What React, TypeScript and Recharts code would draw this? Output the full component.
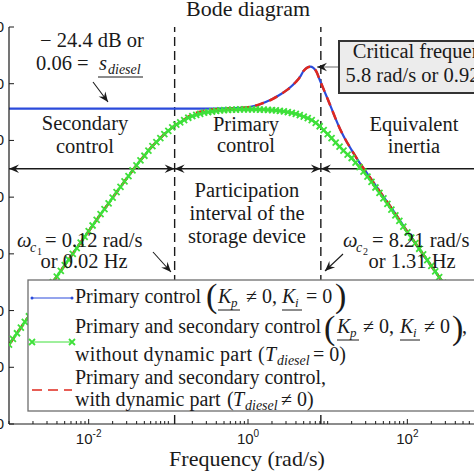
import React from "react";
import { LineChart, Line, XAxis, YAxis, ReferenceLine } from "recharts";

const SERIF = "'Liberation Serif', 'Times New Roman', serif";
const SANS = "'Liberation Sans', Arial, sans-serif";
const INK = "#1a1a1a";
const BLUE = "#2b4bdb";
const GREEN = "#3ee03a";
const RED = "#e0281e";

// frequency grid of the green curve (rad/s), twenty points per decade
const freqs = [
  0.001, 0.00112, 0.00126, 0.00141, 0.00158, 0.00178, 0.002, 0.00224, 0.00251, 0.00282,
  0.00316, 0.00355, 0.00398, 0.00447, 0.00501, 0.00562, 0.00631, 0.00708, 0.00794, 0.00891,
  0.01, 0.0112, 0.0126, 0.0141, 0.0158, 0.0178, 0.02, 0.0224, 0.0251, 0.0282,
  0.0316, 0.0355, 0.0398, 0.0447, 0.0501, 0.0562, 0.0631, 0.0708, 0.0794, 0.0891,
  0.1, 0.112, 0.126, 0.141, 0.158, 0.178, 0.2, 0.224, 0.251, 0.282,
  0.316, 0.355, 0.398, 0.447, 0.501, 0.562, 0.631, 0.708, 0.794, 0.891,
  1, 1.12, 1.26, 1.41, 1.58, 1.78, 2, 2.24, 2.51, 2.82,
  3.16, 3.55, 3.98, 4.47, 5.01, 5.62, 6.31, 7.08, 7.94, 8.91,
  10, 11.2, 12.6, 14.1, 15.8, 17.8, 20, 22.4, 25.1, 28.2,
  31.6, 35.5, 39.8, 44.7, 50.1, 56.2, 63.1, 70.8, 79.4, 89.1,
  100, 112, 126, 141, 158, 178, 200, 224, 251, 282,
  316, 355, 398, 447, 501, 562, 631, 708, 794, 891, 1000,
];
// primary + secondary control, no diesel dynamics (dB)
const greenDb = [
  -66.0, -65.0, -64.0, -63.0, -62.0, -61.0, -60.0, -59.0, -58.0, -57.0,
  -56.0, -55.0, -54.0, -53.0, -52.0, -51.0, -50.0, -49.0, -48.0, -47.0,
  -46.0, -45.0, -44.0, -43.0, -42.1, -41.1, -40.1, -39.1, -38.2, -37.2,
  -36.3, -35.3, -34.4, -33.5, -32.7, -31.8, -31.0, -30.3, -29.6, -28.9,
  -28.3, -27.7, -27.2, -26.8, -26.4, -26.0, -25.7, -25.5, -25.3, -25.1,
  -25.0, -24.9, -24.8, -24.7, -24.65, -24.61, -24.57, -24.55, -24.53, -24.53,
  -24.52, -24.53, -24.54, -24.56, -24.58, -24.62, -24.67, -24.72, -24.8, -24.89,
  -25.0, -25.15, -25.3, -25.53, -25.8, -26.07, -26.4, -26.9, -27.5, -28.2,
  -28.9, -29.6, -30.4, -31.1, -31.8, -32.5, -33.1, -33.9, -34.7, -35.5,
  -36.4, -37.3, -38.3, -39.25, -40.2, -41.2, -42.2, -43.2, -44.2, -45.2,
  -46.2, -47.15, -48.1, -49.1, -50.1, -51.1, -52.1, -53.1, -54.1, -55.1,
  -56.1, -57.1, -58.1, -59.1, -60.1, -61.1, -62.1, -63.1, -64.1, -65.1, -66.1,
];

// primary control only
const blueFreqs = [
  0.001, 0.01, 0.1, 0.316, 0.631, 1, 1.26, 1.58, 2, 2.51, 3.16, 3.98, 4.47, 5.01,
  5.62, 6.03, 6.61, 7.24, 7.94, 8.91, 10, 11.2, 12.6, 14.1, 15.8, 20, 25.1, 31.6,
  39.8, 50.1, 63.1, 100, 316, 1000,
];
const blueDb = [
  -24.4, -24.4, -24.4, -24.38, -24.3, -24.15, -23.85, -23.35, -22.75, -21.95, -21.0, -19.7, -18.85, -17.7,
  -17.1, -17.0, -17.2, -17.9, -19.3, -21.0, -22.7, -24.4, -26.2, -27.8, -29.2, -31.7, -33.9, -35.9,
  -37.9, -39.9, -41.9, -46.1, -56.1, -66.1,
];

// primary + secondary control with diesel dynamics
const redFreqs = [
  0.001, 0.00316, 0.01, 0.0158, 0.0251, 0.0398, 0.0631, 0.1, 0.126, 0.158, 0.2, 0.251,
  0.316, 0.398, 0.501, 0.631, 0.794, 1, 1.26, 1.58, 2, 2.51, 3.16, 3.98, 4.47, 5.01,
  5.62, 6.03, 6.61, 7.24, 7.94, 8.91, 10, 11.2, 12.6, 14.1, 15.8, 20, 25.1, 31.6,
  39.8, 50.1, 63.1, 100, 316, 1000,
];
const redDb = [
  -66.0, -56.0, -46.0, -42.1, -38.2, -34.4, -31.0, -28.3, -27.2, -26.3, -25.4, -24.95,
  -24.65, -24.5, -24.4, -24.35, -24.25, -24.15, -23.85, -23.35, -22.75, -21.95, -21.0, -19.7, -18.85, -17.7,
  -17.1, -17.0, -17.2, -17.9, -19.3, -21.0, -22.7, -24.4, -26.2, -27.8, -29.2, -31.7, -33.9, -35.9,
  -37.9, -39.9, -41.9, -46.1, -56.1, -66.1,
];

const yTicks = [-80, -70, -60, -50, -40, -30, -20, -10];
const decades = [0.001, 0.01, 0.1, 1, 10, 100];
const xTicks = decades
  .flatMap((d) => [1, 2, 3, 4, 5, 6, 7, 8, 9].map((m) => +(d * m).toPrecision(3)))
  .concat(1000);
const labelledExps = [-2, 0, 2];

const crossovers = [0.12, 8.21]; // rad/s
const bandLevel = -35; // dB, height of the double arrows
const bandEdges = [0.001, 0.12, 8.21, 1000];

const greenData = freqs.map((f, i) => ({ f, db: greenDb[i] }));
const blueData = blueFreqs.map((f, i) => ({ f, db: blueDb[i] }));
const redData = redFreqs.map((f, i) => ({ f, db: redDb[i] }));

function arrowHead(fx: number, fy: number, tx: number, ty: number, size = 10) {
  const len = Math.hypot(tx - fx, ty - fy) || 1;
  const dx = (tx - fx) / len;
  const dy = (ty - fy) / len;
  const w = size * 0.42;
  const bx = tx - dx * size;
  const by = ty - dy * size;
  const nx = tx - dx * size * 0.65;
  const ny = ty - dy * size * 0.65;
  return (
    <path
      d={`M${tx},${ty}L${bx - dy * w},${by + dx * w}L${nx},${ny}L${bx + dy * w},${by - dx * w}Z`}
      fill={INK}
    />
  );
}

function Arrow({ x1, y1, x2, y2, stroke = INK }: any) {
  return (
    <g>
      <line x1={x1} y1={y1} x2={x2} y2={y2} stroke={stroke} strokeWidth={1.1} />
      {arrowHead(x1, y1, x2, y2)}
    </g>
  );
}

const DoubleArrow = (props: any) => {
  const { x1, y1, x2, y2 } = props;
  return (
    <g>
      <line x1={x1} y1={y1} x2={x2} y2={y2} stroke={INK} strokeWidth={1.4} />
      {arrowHead(x2, y2, x1, y1)}
      {arrowHead(x1, y1, x2, y2)}
    </g>
  );
};

function isLabelled(v: number) {
  const e = Math.round(Math.log10(v));
  return Math.abs(Math.log10(v) - e) < 1e-6 && labelledExps.includes(e) ? e : null;
}

const BottomTick = (props: any) => {
  const { x, y, payload } = props;
  const e = isLabelled(payload.value);
  return (
    <g>
      <line x1={x} x2={x} y1={y} y2={y - (e !== null ? 5 : 3)} stroke={INK} />
      {e !== null && (
        <text x={x} y={y + 20} textAnchor="middle" fontFamily={SANS} fontSize={15} fill={INK}>
          <tspan>10</tspan>
          <tspan dy={-7} fontSize={10}>{String(e)}</tspan>
        </text>
      )}
    </g>
  );
};

const TopTick = (props: any) => {
  const { x, y, payload } = props;
  const e = isLabelled(payload.value);
  return <line x1={x} x2={x} y1={y} y2={y + (e !== null ? 5 : 3)} stroke={INK} />;
};

const LeftTick = (props: any) => {
  const { x, y, payload } = props;
  return (
    <g>
      <line x1={x + 5} x2={x + 10} y1={y} y2={y} stroke={INK} />
      <text x={x} y={y + 5} textAnchor="end" fontFamily={SANS} fontSize={15} fill={INK}>
        {payload.value}
      </text>
    </g>
  );
};

const XMark = (props: any) => {
  const { cx, cy, index } = props;
  if (cx == null || cy == null) return <g key={index} />;
  const s = 3;
  return (
    <path
      key={index}
      d={`M${cx - s},${cy - s}L${cx + s},${cy + s}M${cx - s},${cy + s}L${cx + s},${cy - s}`}
      stroke={GREEN}
      strokeWidth={1.8}
      fill="none"
    />
  );
};

function KSub({ x, y, sub, uw }: any) {
  return (
    <g>
      <text x={x} y={y} fontStyle="italic">K</text>
      <text x={x + 13} y={y + 4} fontStyle="italic" fontSize={13}>{sub}</text>
      <line x1={x} x2={x + uw} y1={y + 7} y2={y + 7} stroke={INK} strokeWidth={1} />
    </g>
  );
}

function TSub({ x, y }: any) {
  return (
    <g>
      <text x={x} y={y} fontStyle="italic">T</text>
      <text x={x + 12} y={y + 4} fontStyle="italic" fontSize={14}>diesel</text>
    </g>
  );
}

function Paren({ x, y, ch }: any) {
  return (
    <text x={x} y={y + 5} fontSize={34}>
      {ch}
    </text>
  );
}

function Overlay() {
  return (
    <svg
      width={474}
      height={474}
      style={{ position: "absolute", left: 0, top: 0 }}
      fontFamily={SERIF}
      fontSize={20.5}
      fill={INK}
    >
      <text x={248} y={16} textAnchor="middle" fontSize={22}>Bode diagram</text>
      <text x={247} y={466} textAnchor="middle" fontSize={22}>Frequency (rad/s)</text>

      {/* steady-state gain note */}
      <text x={92} y={47} textAnchor="middle">− 24.4 dB or</text>
      <text x={36} y={70}>0.06 =</text>
      <text x={99} y={70} fontStyle="italic">s</text>
      <text x={108} y={74} fontStyle="italic" fontSize={14}>diesel</text>
      <line x1={98} x2={143} y1={77} y2={77} stroke={INK} strokeWidth={1} />
      <Arrow x1={93} y1={82} x2={108} y2={102} />

      {/* band names */}
      <text x={85} y={130} textAnchor="middle">Secondary</text>
      <text x={85} y={153} textAnchor="middle">control</text>
      <text x={246} y={131} textAnchor="middle">Primary</text>
      <text x={246} y={152} textAnchor="middle">control</text>
      <text x={414} y={131} textAnchor="middle">Equivalent</text>
      <text x={414} y={153} textAnchor="middle">inertia</text>
      <text x={247} y={197} textAnchor="middle">Participation</text>
      <text x={247} y={220} textAnchor="middle">interval of the</text>
      <text x={247} y={243} textAnchor="middle">storage device</text>

      {/* crossover notes */}
      <text x={17} y={247} fontStyle="italic">ω</text>
      <text x={30} y={252} fontStyle="italic" fontSize={14}>c</text>
      <text x={37} y={255} fontSize={10}>1</text>
      <text x={45} y={247}>= 0.12 rad/s</text>
      <text x={84} y={268} textAnchor="middle">or 0.02 Hz</text>
      <Arrow x1={153} y1={252} x2={171} y2={272} />

      <text x={343} y={247} fontStyle="italic">ω</text>
      <text x={356} y={252} fontStyle="italic" fontSize={14}>c</text>
      <text x={363} y={255} fontSize={10}>2</text>
      <text x={372} y={247}>= 8.21 rad/s</text>
      <text x={412} y={268} textAnchor="middle">or 1.31 Hz</text>
      <Arrow x1={343} y1={254} x2={325} y2={271} />

      {/* critical frequency box */}
      <rect x={339} y={41} width={170} height={52} fill="#ececec" stroke="#333" strokeWidth={2} />
      <text x={427} y={58} textAnchor="middle">Critical frequency</text>
      <text x={427} y={82} textAnchor="middle">5.8 rad/s or 0.92 Hz</text>
      <Arrow x1={338} y1={67} x2={317} y2={67} stroke="#777" />

      {/* legend */}
      <rect x={28} y={280} width={470} height={131} fill="#fff" stroke="#6e6e6e" strokeWidth={1.3} />
      <g fontSize={20}>
        <line x1={32} x2={72} y1={298} y2={298} stroke={BLUE} strokeWidth={1} />
        <circle cx={32} cy={298} r={1.5} fill={BLUE} />
        <circle cx={72} cy={298} r={1.5} fill={BLUE} />
        <text x={75} y={303}>Primary control</text>
        <Paren x={206} y={302} ch="(" />
        <KSub x={218} y={303} sub="p" uw={22} />
        <text x={246} y={303}>≠ 0,</text>
        <KSub x={282} y={303} sub="i" uw={20} />
        <text x={306} y={303}>= 0</text>
        <Paren x={335} y={302} ch=")" />

        <line x1={32} x2={72} y1={342} y2={342} stroke={GREEN} strokeWidth={1} />
        <XMark cx={32} cy={342} index="a" />
        <XMark cx={72} cy={342} index="b" />
        <text x={75} y={333}>Primary and secondary control</text>
        <Paren x={324} y={334} ch="(" />
        <KSub x={337} y={333} sub="p" uw={22} />
        <text x={363} y={333}>≠ 0,</text>
        <KSub x={400} y={333} sub="i" uw={20} />
        <text x={424} y={333}>≠ 0</text>
        <Paren x={452} y={334} ch=")" />
        <text x={462} y={333}>,</text>
        <text x={75} y={361} textLength={177} lengthAdjust="spacing">without dynamic part</text>
        <text x={258} y={361}>(</text>
        <TSub x={265} y={361} />
        <text x={313} y={361}>= 0)</text>

        <line x1={32} x2={72} y1={390} y2={390} stroke={RED} strokeWidth={1.5} strokeDasharray="10 6" />
        <text x={75} y={384}>Primary and secondary control,</text>
        <text x={75} y={406}>with dynamic part</text>
        <text x={227} y={406}>(</text>
        <TSub x={233} y={406} />
        <text x={281} y={406}>≠ 0)</text>
      </g>
    </svg>
  );
}

export default function App() {
  return (
    <div
      style={{
        position: "fixed",
        left: 0,
        top: 0,
        width: 474,
        height: 474,
        overflow: "hidden",
        background: "#fff",
      }}
    >
      <div style={{ position: "absolute", left: -60, top: 0 }}>
        <LineChart width={560} height={474} margin={{ top: 27, right: 13, bottom: 0, left: 0 }}>
          <XAxis
            dataKey="f"
            type="number"
            scale="log"
            domain={[0.001, 1000]}
            allowDataOverflow
            ticks={xTicks}
            interval={0}
            height={50}
            tickSize={0}
            tickMargin={0}
            tickLine={false}
            tick={<BottomTick />}
            axisLine={{ stroke: INK, strokeWidth: 1.2 }}
          />
          <XAxis
            xAxisId="top"
            orientation="top"
            dataKey="f"
            type="number"
            scale="log"
            domain={[0.001, 1000]}
            allowDataOverflow
            ticks={xTicks}
            interval={0}
            height={0}
            tickSize={0}
            tickMargin={0}
            tickLine={false}
            tick={<TopTick />}
            axisLine={{ stroke: INK, strokeWidth: 1.2 }}
          />
          <YAxis
            type="number"
            domain={[-80, -10]}
            allowDataOverflow
            ticks={yTicks}
            interval={0}
            width={69}
            tickSize={0}
            tickMargin={5}
            tickLine={false}
            tick={<LeftTick />}
            axisLine={{ stroke: INK, strokeWidth: 1.2 }}
          />
          {crossovers.map((c) => (
            <ReferenceLine key={c} x={c} stroke={INK} strokeWidth={1.4} strokeDasharray="9 5" />
          ))}
          {bandEdges.slice(1).map((b, i) => (
            <ReferenceLine
              key={b}
              segment={[
                { x: bandEdges[i], y: bandLevel },
                { x: b, y: bandLevel },
              ]}
              shape={DoubleArrow}
            />
          ))}
          <Line
            data={blueData}
            dataKey="db"
            type="monotone"
            stroke={BLUE}
            strokeWidth={2.2}
            dot={false}
            isAnimationActive={false}
          />
          <Line
            data={greenData}
            dataKey="db"
            type="monotone"
            stroke={GREEN}
            strokeWidth={2.5}
            dot={XMark}
            isAnimationActive={false}
          />
          <Line
            data={redData}
            dataKey="db"
            type="monotone"
            stroke={RED}
            strokeWidth={2.5}
            strokeDasharray="9 6"
            dot={false}
            isAnimationActive={false}
          />
        </LineChart>
      </div>
      <Overlay />
    </div>
  );
}
